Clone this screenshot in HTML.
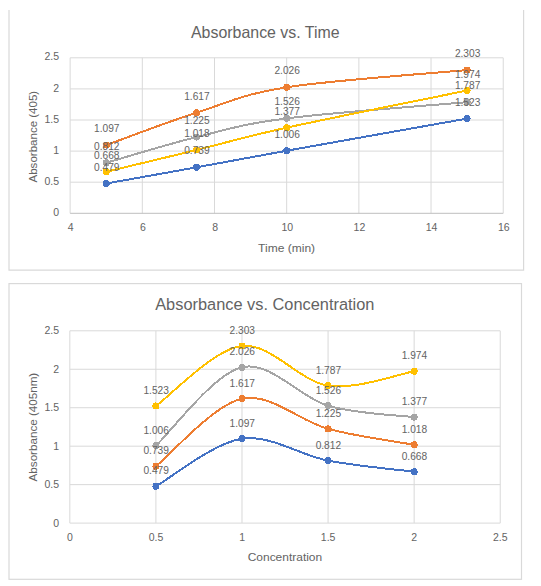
<!DOCTYPE html><html><head><meta charset="utf-8"><style>html,body{margin:0;padding:0;background:#fff;width:541px;height:586px;overflow:hidden}svg{display:block}</style></head><body>
<svg width="541" height="586" viewBox="0 0 541 586" font-family="&quot;Liberation Sans&quot;, sans-serif" fill="#636363">
<path d="M9,10 V270.2 H523.6 V10" fill="none" stroke="#D9D9D9" stroke-width="1.2"/>
<rect x="9" y="283.6" width="512.5" height="295.7" fill="none" stroke="#D9D9D9" stroke-width="1.2"/>
<line x1="70.14" x2="503.22" y1="182.20" y2="182.20" stroke="#D9D9D9" stroke-width="1"/>
<line x1="70.14" x2="503.22" y1="151.10" y2="151.10" stroke="#D9D9D9" stroke-width="1"/>
<line x1="70.14" x2="503.22" y1="120.00" y2="120.00" stroke="#D9D9D9" stroke-width="1"/>
<line x1="70.14" x2="503.22" y1="88.90" y2="88.90" stroke="#D9D9D9" stroke-width="1"/>
<line x1="70.14" x2="503.22" y1="57.80" y2="57.80" stroke="#D9D9D9" stroke-width="1"/>
<line x1="70.14" x2="70.14" y1="57.80" y2="213.30" stroke="#D9D9D9" stroke-width="1"/>
<line x1="142.32" x2="142.32" y1="57.80" y2="213.30" stroke="#D9D9D9" stroke-width="1"/>
<line x1="214.50" x2="214.50" y1="57.80" y2="213.30" stroke="#D9D9D9" stroke-width="1"/>
<line x1="286.68" x2="286.68" y1="57.80" y2="213.30" stroke="#D9D9D9" stroke-width="1"/>
<line x1="358.86" x2="358.86" y1="57.80" y2="213.30" stroke="#D9D9D9" stroke-width="1"/>
<line x1="431.04" x2="431.04" y1="57.80" y2="213.30" stroke="#D9D9D9" stroke-width="1"/>
<line x1="503.22" x2="503.22" y1="57.80" y2="213.30" stroke="#D9D9D9" stroke-width="1"/>
<line x1="70.14" x2="503.22" y1="213.30" y2="213.30" stroke="#BFBFBF" stroke-width="1"/>
<text x="59.00" y="215.90" font-size="10.5" text-anchor="end">0</text>
<text x="59.00" y="184.80" font-size="10.5" text-anchor="end">0.5</text>
<text x="59.00" y="153.70" font-size="10.5" text-anchor="end">1</text>
<text x="59.00" y="122.60" font-size="10.5" text-anchor="end">1.5</text>
<text x="59.00" y="91.50" font-size="10.5" text-anchor="end">2</text>
<text x="59.00" y="60.40" font-size="10.5" text-anchor="end">2.5</text>
<text x="70.74" y="231.00" font-size="10.5" text-anchor="middle">4</text>
<text x="142.92" y="231.00" font-size="10.5" text-anchor="middle">6</text>
<text x="215.10" y="231.00" font-size="10.5" text-anchor="middle">8</text>
<text x="287.28" y="231.00" font-size="10.5" text-anchor="middle">10</text>
<text x="359.46" y="231.00" font-size="10.5" text-anchor="middle">12</text>
<text x="431.64" y="231.00" font-size="10.5" text-anchor="middle">14</text>
<text x="503.82" y="231.00" font-size="10.5" text-anchor="middle">16</text>
<path d="M106.23,183.51 C121.27,180.81 166.38,172.80 196.46,167.33 C226.53,161.87 241.57,158.85 286.68,150.73 C331.79,142.60 437.06,123.93 467.13,118.57" fill="none" stroke="#4472C4" stroke-width="2" stroke-linecap="round" stroke-linejoin="round" shape-rendering="crispEdges"/>
<circle cx="106.23" cy="183.51" r="3.5" fill="#4472C4" shape-rendering="crispEdges"/>
<circle cx="196.46" cy="167.33" r="3.5" fill="#4472C4" shape-rendering="crispEdges"/>
<circle cx="286.68" cy="150.73" r="3.5" fill="#4472C4" shape-rendering="crispEdges"/>
<circle cx="467.13" cy="118.57" r="3.5" fill="#4472C4" shape-rendering="crispEdges"/>
<path d="M106.23,145.07 C121.27,139.68 166.38,122.35 196.46,112.72 C226.53,103.09 241.57,94.39 286.68,87.28 C331.79,80.17 437.06,72.92 467.13,70.05" fill="none" stroke="#ED7D31" stroke-width="2" stroke-linecap="round" stroke-linejoin="round" shape-rendering="crispEdges"/>
<circle cx="106.23" cy="145.07" r="3.5" fill="#ED7D31" shape-rendering="crispEdges"/>
<circle cx="196.46" cy="112.72" r="3.5" fill="#ED7D31" shape-rendering="crispEdges"/>
<circle cx="286.68" cy="87.28" r="3.5" fill="#ED7D31" shape-rendering="crispEdges"/>
<circle cx="467.13" cy="70.05" r="3.5" fill="#ED7D31" shape-rendering="crispEdges"/>
<path d="M106.23,162.79 C121.27,158.51 166.38,144.51 196.46,137.11 C226.53,129.70 241.57,124.21 286.68,118.38 C331.79,112.56 437.06,104.85 467.13,102.15" fill="none" stroke="#A5A5A5" stroke-width="2" stroke-linecap="round" stroke-linejoin="round" shape-rendering="crispEdges"/>
<circle cx="106.23" cy="162.79" r="3.5" fill="#A5A5A5" shape-rendering="crispEdges"/>
<circle cx="196.46" cy="137.11" r="3.5" fill="#A5A5A5" shape-rendering="crispEdges"/>
<circle cx="286.68" cy="118.38" r="3.5" fill="#A5A5A5" shape-rendering="crispEdges"/>
<circle cx="467.13" cy="102.15" r="3.5" fill="#A5A5A5" shape-rendering="crispEdges"/>
<path d="M106.23,171.75 C121.27,168.12 166.38,157.33 196.46,149.98 C226.53,142.63 241.57,137.56 286.68,127.65 C331.79,117.74 437.06,96.71 467.13,90.52" fill="none" stroke="#FFC000" stroke-width="2" stroke-linecap="round" stroke-linejoin="round" shape-rendering="crispEdges"/>
<circle cx="106.23" cy="171.75" r="3.5" fill="#FFC000" shape-rendering="crispEdges"/>
<circle cx="196.46" cy="149.98" r="3.5" fill="#FFC000" shape-rendering="crispEdges"/>
<circle cx="286.68" cy="127.65" r="3.5" fill="#FFC000" shape-rendering="crispEdges"/>
<circle cx="467.13" cy="90.52" r="3.5" fill="#FFC000" shape-rendering="crispEdges"/>
<text x="106.73" y="170.61" font-size="10.5" text-anchor="middle" textLength="25.49" lengthAdjust="spacingAndGlyphs">0.479</text>
<text x="196.96" y="154.43" font-size="10.5" text-anchor="middle" textLength="25.49" lengthAdjust="spacingAndGlyphs">0.739</text>
<text x="287.18" y="137.83" font-size="10.5" text-anchor="middle" textLength="25.49" lengthAdjust="spacingAndGlyphs">1.006</text>
<text x="467.63" y="105.67" font-size="10.5" text-anchor="middle" textLength="25.49" lengthAdjust="spacingAndGlyphs">1.523</text>
<text x="106.73" y="132.17" font-size="10.5" text-anchor="middle" textLength="25.49" lengthAdjust="spacingAndGlyphs">1.097</text>
<text x="196.96" y="99.82" font-size="10.5" text-anchor="middle" textLength="25.49" lengthAdjust="spacingAndGlyphs">1.617</text>
<text x="287.18" y="74.38" font-size="10.5" text-anchor="middle" textLength="25.49" lengthAdjust="spacingAndGlyphs">2.026</text>
<text x="467.63" y="57.15" font-size="10.5" text-anchor="middle" textLength="25.49" lengthAdjust="spacingAndGlyphs">2.303</text>
<text x="106.73" y="149.89" font-size="10.5" text-anchor="middle" textLength="25.49" lengthAdjust="spacingAndGlyphs">0.812</text>
<text x="196.96" y="124.21" font-size="10.5" text-anchor="middle" textLength="25.49" lengthAdjust="spacingAndGlyphs">1.225</text>
<text x="287.18" y="105.48" font-size="10.5" text-anchor="middle" textLength="25.49" lengthAdjust="spacingAndGlyphs">1.526</text>
<text x="467.63" y="89.25" font-size="10.5" text-anchor="middle" textLength="25.49" lengthAdjust="spacingAndGlyphs">1.787</text>
<text x="106.73" y="158.85" font-size="10.5" text-anchor="middle" textLength="25.49" lengthAdjust="spacingAndGlyphs">0.668</text>
<text x="196.96" y="137.08" font-size="10.5" text-anchor="middle" textLength="25.49" lengthAdjust="spacingAndGlyphs">1.018</text>
<text x="287.18" y="114.75" font-size="10.5" text-anchor="middle" textLength="25.49" lengthAdjust="spacingAndGlyphs">1.377</text>
<text x="467.63" y="77.62" font-size="10.5" text-anchor="middle" textLength="25.49" lengthAdjust="spacingAndGlyphs">1.974</text>
<text x="191.00" y="37.60" font-size="16.5" textLength="148.61" lengthAdjust="spacingAndGlyphs">Absorbance vs. Time</text>
<text x="258.10" y="251.90" font-size="10.8" textLength="57.00" lengthAdjust="spacingAndGlyphs">Time (min)</text>
<g transform="rotate(-90)">
<text x="-182.50" y="37.20" font-size="10.8" textLength="91.70" lengthAdjust="spacingAndGlyphs">Absorbance (405)</text>
</g>
<line x1="69.83" x2="500.23" y1="484.64" y2="484.64" stroke="#D9D9D9" stroke-width="1"/>
<line x1="69.83" x2="500.23" y1="446.18" y2="446.18" stroke="#D9D9D9" stroke-width="1"/>
<line x1="69.83" x2="500.23" y1="407.72" y2="407.72" stroke="#D9D9D9" stroke-width="1"/>
<line x1="69.83" x2="500.23" y1="369.26" y2="369.26" stroke="#D9D9D9" stroke-width="1"/>
<line x1="69.83" x2="500.23" y1="330.80" y2="330.80" stroke="#D9D9D9" stroke-width="1"/>
<line x1="69.83" x2="69.83" y1="330.80" y2="523.10" stroke="#D9D9D9" stroke-width="1"/>
<line x1="155.91" x2="155.91" y1="330.80" y2="523.10" stroke="#D9D9D9" stroke-width="1"/>
<line x1="241.99" x2="241.99" y1="330.80" y2="523.10" stroke="#D9D9D9" stroke-width="1"/>
<line x1="328.07" x2="328.07" y1="330.80" y2="523.10" stroke="#D9D9D9" stroke-width="1"/>
<line x1="414.15" x2="414.15" y1="330.80" y2="523.10" stroke="#D9D9D9" stroke-width="1"/>
<line x1="500.23" x2="500.23" y1="330.80" y2="523.10" stroke="#D9D9D9" stroke-width="1"/>
<line x1="69.83" x2="500.23" y1="523.10" y2="523.10" stroke="#D9D9D9" stroke-width="1"/>
<text x="59.00" y="526.60" font-size="10.5" text-anchor="end">0</text>
<text x="59.00" y="488.14" font-size="10.5" text-anchor="end">0.5</text>
<text x="59.00" y="449.68" font-size="10.5" text-anchor="end">1</text>
<text x="59.00" y="411.22" font-size="10.5" text-anchor="end">1.5</text>
<text x="59.00" y="372.76" font-size="10.5" text-anchor="end">2</text>
<text x="59.00" y="334.30" font-size="10.5" text-anchor="end">2.5</text>
<text x="69.93" y="541.10" font-size="10.5" text-anchor="middle">0</text>
<text x="156.01" y="541.10" font-size="10.5" text-anchor="middle">0.5</text>
<text x="242.09" y="541.10" font-size="10.5" text-anchor="middle">1</text>
<text x="328.17" y="541.10" font-size="10.5" text-anchor="middle">1.5</text>
<text x="414.25" y="541.10" font-size="10.5" text-anchor="middle">2</text>
<text x="500.33" y="541.10" font-size="10.5" text-anchor="middle">2.5</text>
<path d="M155.91,486.26 C170.26,478.33 213.30,442.99 241.99,438.72 C270.68,434.45 299.38,455.14 328.07,460.64 C356.76,466.14 399.80,469.87 414.15,471.72" fill="none" stroke="#4472C4" stroke-width="2" stroke-linecap="round" stroke-linejoin="round" shape-rendering="crispEdges"/>
<circle cx="155.91" cy="486.26" r="3.5" fill="#4472C4" shape-rendering="crispEdges"/>
<circle cx="241.99" cy="438.72" r="3.5" fill="#4472C4" shape-rendering="crispEdges"/>
<circle cx="328.07" cy="460.64" r="3.5" fill="#4472C4" shape-rendering="crispEdges"/>
<circle cx="414.15" cy="471.72" r="3.5" fill="#4472C4" shape-rendering="crispEdges"/>
<path d="M155.91,466.26 C170.26,455.00 213.30,404.95 241.99,398.72 C270.68,392.49 299.38,421.19 328.07,428.87 C356.76,436.55 399.80,442.14 414.15,444.80" fill="none" stroke="#ED7D31" stroke-width="2" stroke-linecap="round" stroke-linejoin="round" shape-rendering="crispEdges"/>
<circle cx="155.91" cy="466.26" r="3.5" fill="#ED7D31" shape-rendering="crispEdges"/>
<circle cx="241.99" cy="398.72" r="3.5" fill="#ED7D31" shape-rendering="crispEdges"/>
<circle cx="328.07" cy="428.87" r="3.5" fill="#ED7D31" shape-rendering="crispEdges"/>
<circle cx="414.15" cy="444.80" r="3.5" fill="#ED7D31" shape-rendering="crispEdges"/>
<path d="M155.91,445.72 C170.26,432.64 213.30,373.93 241.99,367.26 C270.68,360.59 299.38,397.40 328.07,405.72 C356.76,414.04 399.80,415.27 414.15,417.18" fill="none" stroke="#A5A5A5" stroke-width="2" stroke-linecap="round" stroke-linejoin="round" shape-rendering="crispEdges"/>
<circle cx="155.91" cy="445.72" r="3.5" fill="#A5A5A5" shape-rendering="crispEdges"/>
<circle cx="241.99" cy="367.26" r="3.5" fill="#A5A5A5" shape-rendering="crispEdges"/>
<circle cx="328.07" cy="405.72" r="3.5" fill="#A5A5A5" shape-rendering="crispEdges"/>
<circle cx="414.15" cy="417.18" r="3.5" fill="#A5A5A5" shape-rendering="crispEdges"/>
<path d="M155.91,405.95 C170.26,395.95 213.30,349.34 241.99,345.95 C270.68,342.57 299.38,381.43 328.07,385.64 C356.76,389.86 399.80,373.66 414.15,371.26" fill="none" stroke="#FFC000" stroke-width="2" stroke-linecap="round" stroke-linejoin="round" shape-rendering="crispEdges"/>
<circle cx="155.91" cy="405.95" r="3.5" fill="#FFC000" shape-rendering="crispEdges"/>
<circle cx="241.99" cy="345.95" r="3.5" fill="#FFC000" shape-rendering="crispEdges"/>
<circle cx="328.07" cy="385.64" r="3.5" fill="#FFC000" shape-rendering="crispEdges"/>
<circle cx="414.15" cy="371.26" r="3.5" fill="#FFC000" shape-rendering="crispEdges"/>
<text x="156.21" y="474.46" font-size="10.5" text-anchor="middle" textLength="25.49" lengthAdjust="spacingAndGlyphs">0.479</text>
<text x="242.29" y="426.92" font-size="10.5" text-anchor="middle" textLength="25.49" lengthAdjust="spacingAndGlyphs">1.097</text>
<text x="328.37" y="448.84" font-size="10.5" text-anchor="middle" textLength="25.49" lengthAdjust="spacingAndGlyphs">0.812</text>
<text x="414.45" y="459.92" font-size="10.5" text-anchor="middle" textLength="25.49" lengthAdjust="spacingAndGlyphs">0.668</text>
<text x="156.21" y="454.46" font-size="10.5" text-anchor="middle" textLength="25.49" lengthAdjust="spacingAndGlyphs">0.739</text>
<text x="242.29" y="386.92" font-size="10.5" text-anchor="middle" textLength="25.49" lengthAdjust="spacingAndGlyphs">1.617</text>
<text x="328.37" y="417.07" font-size="10.5" text-anchor="middle" textLength="25.49" lengthAdjust="spacingAndGlyphs">1.225</text>
<text x="414.45" y="433.00" font-size="10.5" text-anchor="middle" textLength="25.49" lengthAdjust="spacingAndGlyphs">1.018</text>
<text x="156.21" y="433.92" font-size="10.5" text-anchor="middle" textLength="25.49" lengthAdjust="spacingAndGlyphs">1.006</text>
<text x="242.29" y="355.46" font-size="10.5" text-anchor="middle" textLength="25.49" lengthAdjust="spacingAndGlyphs">2.026</text>
<text x="328.37" y="393.92" font-size="10.5" text-anchor="middle" textLength="25.49" lengthAdjust="spacingAndGlyphs">1.526</text>
<text x="414.45" y="405.38" font-size="10.5" text-anchor="middle" textLength="25.49" lengthAdjust="spacingAndGlyphs">1.377</text>
<text x="156.21" y="394.15" font-size="10.5" text-anchor="middle" textLength="25.49" lengthAdjust="spacingAndGlyphs">1.523</text>
<text x="242.29" y="334.15" font-size="10.5" text-anchor="middle" textLength="25.49" lengthAdjust="spacingAndGlyphs">2.303</text>
<text x="328.37" y="373.84" font-size="10.5" text-anchor="middle" textLength="25.49" lengthAdjust="spacingAndGlyphs">1.787</text>
<text x="414.45" y="359.46" font-size="10.5" text-anchor="middle" textLength="25.49" lengthAdjust="spacingAndGlyphs">1.974</text>
<text x="155.20" y="309.80" font-size="16.8" textLength="219.19" lengthAdjust="spacingAndGlyphs">Absorbance vs. Concentration</text>
<text x="247.70" y="560.60" font-size="10.8" textLength="74.50" lengthAdjust="spacingAndGlyphs">Concentration</text>
<g transform="rotate(-90)">
<text x="-481.40" y="36.50" font-size="10.8" textLength="108.61" lengthAdjust="spacingAndGlyphs">Absorbance (405nm)</text>
</g>
</svg></body></html>
